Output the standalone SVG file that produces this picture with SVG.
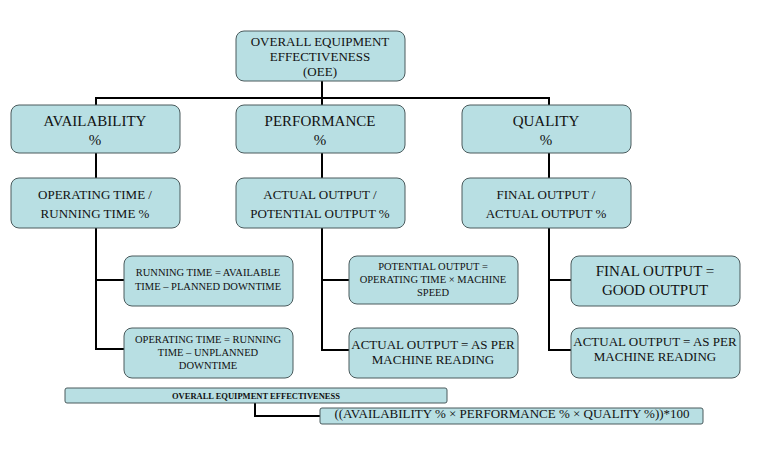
<svg xmlns="http://www.w3.org/2000/svg" width="768" height="466" viewBox="0 0 768 466">
<style>
.b{fill:#b8dfe3;stroke:#4a5a5c;stroke-width:1}
text{font-family:"Liberation Serif",serif;fill:#111;text-anchor:middle}
.l{font-size:15px}.m{font-size:13px}.s{font-size:10.5px}
.c{fill:none;stroke:#000;stroke-width:2}
</style>
<rect width="768" height="466" fill="#fff"/>
<g id="connectors">
<path class="c" d="M322 81V98M96 105V98H549V105M322 98V105M96 153V178M322 153V178M549 153V178"/>
<path class="c" d="M96 228V349H124M96 280H124M322 228V350H349M322 280H349M549 228V350H571M549 280H571M255 403V416H320"/>
</g>
<g id="oee"><rect class="b" x="236" y="31" width="169" height="50" rx="8"/><text class="m" x="320" y="46">OVERALL EQUIPMENT</text><text class="m" x="320" y="61">EFFECTIVENESS</text><text class="m" x="320" y="76">(OEE)</text></g>
<g id="avail"><rect class="b" x="11" y="105" width="169" height="48" rx="8"/><text class="l" x="95" y="126">AVAILABILITY</text><text class="l" x="95" y="145">%</text></g>
<g id="perf"><rect class="b" x="236" y="105" width="169" height="48" rx="8"/><text class="l" x="320" y="126">PERFORMANCE</text><text class="l" x="320" y="145">%</text></g>
<g id="qual"><rect class="b" x="462" y="105" width="169" height="48" rx="8"/><text class="l" x="546" y="126">QUALITY</text><text class="l" x="546" y="145">%</text></g>
<g id="avail2"><rect class="b" x="11" y="178" width="169" height="50" rx="8"/><text class="m" x="95" y="199">OPERATING TIME /</text><text class="m" x="95" y="218">RUNNING TIME %</text></g>
<g id="perf2"><rect class="b" x="236" y="178" width="169" height="50" rx="8"/><text class="m" x="320" y="199">ACTUAL OUTPUT /</text><text class="m" x="320" y="218">POTENTIAL OUTPUT %</text></g>
<g id="qual2"><rect class="b" x="462" y="178" width="169" height="50" rx="8"/><text class="m" x="546" y="199">FINAL OUTPUT /</text><text class="m" x="546" y="218">ACTUAL OUTPUT %</text></g>
<g id="rt"><rect class="b" x="124" y="256" width="169" height="50" rx="8"/><text class="s" x="208" y="276">RUNNING TIME = AVAILABLE</text><text class="s" x="208" y="290">TIME – PLANNED DOWNTIME</text></g>
<g id="ot"><rect class="b" x="124" y="328" width="169" height="50" rx="8"/><text class="s" x="208" y="343">OPERATING TIME = RUNNING</text><text class="s" x="208" y="356">TIME – UNPLANNED</text><text class="s" x="208" y="369">DOWNTIME</text></g>
<g id="po"><rect class="b" x="349" y="256" width="169" height="48" rx="8"/><text class="s" x="433" y="270">POTENTIAL OUTPUT =</text><text class="s" x="433" y="283">OPERATING TIME × MACHINE</text><text class="s" x="433" y="296">SPEED</text></g>
<g id="ao1"><rect class="b" x="349" y="328" width="169" height="50" rx="8"/><text class="m" x="433" y="349">ACTUAL OUTPUT = AS PER</text><text class="m" x="433" y="364">MACHINE READING</text></g>
<g id="fo"><rect class="b" x="571" y="256" width="169" height="50" rx="8"/><text class="l" x="655" y="276">FINAL OUTPUT =</text><text class="l" x="655" y="295">GOOD OUTPUT</text></g>
<g id="ao2"><rect class="b" x="571" y="328" width="169" height="50" rx="8"/><text class="m" x="655" y="346">ACTUAL OUTPUT = AS PER</text><text class="m" x="655" y="361">MACHINE READING</text></g>
<g id="bar"><rect class="b" x="65" y="388" width="382" height="15" rx="2"/><text x="256" y="399" style="font-size:8.5px;font-weight:bold">OVERALL EQUIPMENT EFFECTIVENESS</text></g>
<g id="formula"><rect class="b" x="320" y="408" width="383" height="16" rx="2"/><text class="m" x="512" y="418">((AVAILABILITY % × PERFORMANCE % × QUALITY %))*100</text></g>
</svg>
